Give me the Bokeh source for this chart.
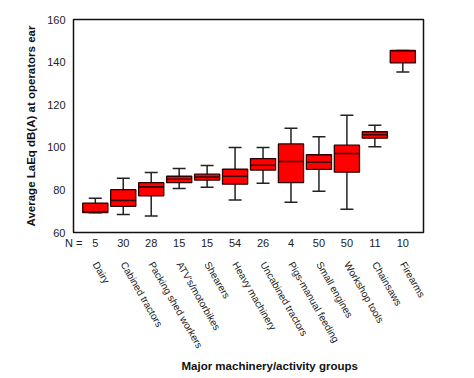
import math
from bokeh.plotting import figure
from bokeh.models import (ColumnDataSource, Range1d, LinearAxis, FixedTicker,
                          Whisker, TeeHead, Title)
from bokeh.transform import dodge
from bokeh.embed import file_html
from bokeh.resources import INLINE

categories = ["Dairy", "Cabined tractors", "Packing shed workers", "ATV's/motorbikes",
              "Shearers", "Heavy machinery", "Uncabined tractors", "Pigs-manual feeding",
              "Small engines", "Workshop tools", "Chainsaws", "Firearms"]
n_values = [5, 30, 28, 15, 15, 54, 26, 4, 50, 50, 11, 10]
whisker_low = [69.3, 68.4, 67.8, 80.6, 81.3, 75.3, 83.1, 74.2, 79.4, 70.9, 100.2, 135.3]
q1 = [69.3, 72.3, 77.2, 83.4, 84.6, 82.7, 89.3, 83.4, 89.6, 88.3, 104.3, 139.6]
median = [69.7, 75.1, 81.4, 85.0, 86.0, 86.4, 91.6, 93.3, 93.0, 97.1, 105.9, 145.4]
q3 = [73.8, 80.1, 83.4, 86.4, 87.4, 89.7, 94.7, 101.6, 96.5, 101.0, 107.3, 145.4]
whisker_high = [76.1, 85.5, 88.2, 90.0, 91.4, 99.9, 99.9, 109.0, 104.9, 115.1, 110.4, 145.4]
y_ticks = [60, 80, 100, 120, 140, 160]
n_prefix = "N ="
x_title = "Major machinery/activity groups"
y_title = "Average LaEq dB(A) at operators ear"

x = list(range(1, len(categories) + 1))
src = ColumnDataSource(dict(x=x, q1=q1, q3=q3, median=median,
                            lo=whisker_low, hi=whisker_high))

X_START, X_END = 0.22, 12.74
FONT = "Liberation Sans"
TXT = "#222222"

p = figure(frame_width=350, frame_height=213,
           x_range=Range1d(X_START, X_END), y_range=Range1d(60, 160),
           output_backend="svg", toolbar_location=None, x_axis_location=None,
           min_border_left=73, min_border_top=19, min_border_right=20,
           min_border_bottom=0)
p.xgrid.visible = False
p.ygrid.visible = False
p.outline_line_color = "#111111"
p.outline_line_width = 1.5
p.background_fill_color = "white"
p.border_fill_color = "white"

# y axis
ya = p.yaxis[0]
ya.ticker = FixedTicker(ticks=y_ticks)
ya.major_tick_out = 0
ya.major_tick_in = 0
ya.minor_tick_out = 0
ya.minor_tick_in = 0
ya.axis_line_color = None
ya.major_label_standoff = 8
ya.major_label_text_font = FONT
ya.major_label_text_font_size = "11px"
ya.major_label_text_color = TXT
ya.axis_label = y_title
ya.axis_label_text_font = FONT
ya.axis_label_text_font_size = "11.5px"
ya.axis_label_text_font_style = "bold"
ya.axis_label_text_color = "#111111"
ya.axis_label_standoff = 7

# N axis (with the "N =" prefix at the left frame edge)
prefix_pos = X_START + 0.01
n_overrides = {xi: str(n) for xi, n in zip(x, n_values)}
n_overrides[prefix_pos] = n_prefix
n_axis = LinearAxis(ticker=FixedTicker(ticks=[prefix_pos] + x),
                    major_label_overrides=n_overrides,
                    major_tick_out=0, major_tick_in=0, minor_tick_out=0, minor_tick_in=0,
                    axis_line_color=None, major_label_standoff=4,
                    major_label_text_font=FONT, major_label_text_font_size="11px",
                    major_label_text_color=TXT)
p.add_layout(n_axis, "below")

# category axis
cat_axis = LinearAxis(ticker=FixedTicker(ticks=x),
                      major_label_overrides={xi: c for xi, c in zip(x, categories)},
                      major_label_orientation=-math.pi / 3,
                      major_tick_out=0, major_tick_in=0, minor_tick_out=0, minor_tick_in=0,
                      axis_line_color=None, major_label_standoff=11,
                      major_label_text_font=FONT, major_label_text_font_size="10px",
                      major_label_text_color=TXT)
p.add_layout(cat_axis, "below")

p.add_layout(Title(text=x_title, align="left", offset=108, standoff=4,
                   text_font=FONT, text_font_size="11.5px", text_font_style="bold",
                   text_color="#111111"), "below")

# whiskers
wh = Whisker(base="x", upper="hi", lower="lo", source=src,
             line_color="#222222", line_width=1.5,
             upper_head=TeeHead(size=13, line_color="#222222", line_width=1.5),
             lower_head=TeeHead(size=13, line_color="#222222", line_width=1.5))
p.add_layout(wh)

# boxes
p.vbar(x="x", width=0.9, bottom="q1", top="q3", source=src,
       fill_color="#FF0000", line_color="#2a0000", line_width=1.3)
# medians
p.segment(x0=dodge("x", -0.45, range=p.x_range), x1=dodge("x", 0.45, range=p.x_range),
          y0="median", y1="median", source=src, line_color="#3a0000", line_width=1.6)

open("out.html", "w").write(file_html(p, INLINE))
